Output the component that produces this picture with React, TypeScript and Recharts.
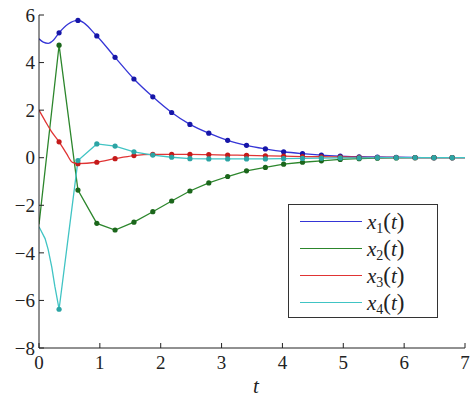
import React from 'react';
import { LineChart, Line, XAxis, YAxis, Legend } from 'recharts';

// sample instants where markers are drawn
const markT = [0.33, 0.64, 0.95, 1.25, 1.56, 1.87, 2.18, 2.48, 2.79, 3.1, 3.41, 3.72, 4.02, 4.33, 4.64, 4.95, 5.26, 5.56, 5.87, 6.18, 6.49, 6.79];

const x1Marks = [5.25, 5.77, 5.12, 4.22, 3.31, 2.56, 1.9, 1.4, 1.03, 0.73, 0.52, 0.37, 0.25, 0.17, 0.11, 0.07, 0.04, 0.03, 0.02, 0.01, 0, 0];
const x2Marks = [4.73, -1.36, -2.76, -3.04, -2.71, -2.27, -1.82, -1.4, -1.06, -0.79, -0.55, -0.41, -0.27, -0.19, -0.13, -0.07, -0.04, -0.02, -0.01, 0, 0, 0];
const x3Marks = [0.67, -0.25, -0.19, -0.04, 0.09, 0.14, 0.14, 0.14, 0.13, 0.11, 0.1, 0.08, 0.07, 0.05, 0.04, 0.03, 0.02, 0.01, 0.01, 0, 0, 0];
const x4Marks = [-6.37, -0.12, 0.58, 0.49, 0.25, 0.11, 0.02, -0.04, -0.05, -0.05, -0.05, -0.05, -0.04, -0.03, -0.02, -0.01, -0.01, 0, 0, 0, 0, 0];

// points between samples (no marker)
const x1ExtraT = [0, 0.07, 0.15, 0.24, 0.48, 7];
const x1Extra = [5.0, 4.86, 4.81, 4.95, 5.62, 0];
const x2ExtraT = [0, 7];
const x2Extra = [-2.8, 0];
const x3ExtraT = [0, 0.1, 0.2, 0.45, 0.55, 7];
const x3Extra = [2.0, 1.55, 1.12, 0.18, -0.2, 0];
const x4ExtraT = [0, 0.1, 0.15, 0.21, 0.26, 7];
const x4Extra = [-2.9, -3.4, -3.85, -4.6, -5.4, 0];

const xTicks = [0, 1, 2, 3, 4, 5, 6, 7];
const yTicks = [-8, -6, -4, -2, 0, 2, 4, 6];

const build = (marks: number[], extraT: number[], extra: number[]) =>
  [
    ...markT.map((t, i) => ({ t, v: marks[i], m: true })),
    ...extraT.map((t, i) => ({ t, v: extra[i], m: false })),
  ].sort((a, b) => a.t - b.t);

const series = [
  { name: 'x1', sub: '1', data: build(x1Marks, x1ExtraT, x1Extra), color: '#3535d6', dotColor: '#1616a8', type: 'monotone' },
  { name: 'x2', sub: '2', data: build(x2Marks, x2ExtraT, x2Extra), color: '#2c862c', dotColor: '#1b661b', type: 'linear' },
  { name: 'x3', sub: '3', data: build(x3Marks, x3ExtraT, x3Extra), color: '#e03434', dotColor: '#c41a1a', type: 'monotone' },
  { name: 'x4', sub: '4', data: build(x4Marks, x4ExtraT, x4Extra), color: '#40c4c4', dotColor: '#2ca4a4', type: 'linear' },
];

const serif = "'Liberation Serif', 'Times New Roman', serif";

const LegendBox = () => (
  <div
    style={{
      border: '1px solid #333',
      background: '#fff',
      width: 150,
      height: 114,
      boxSizing: 'border-box',
      paddingTop: 3,
      fontFamily: serif,
    }}
  >
    {series.map((s) => (
      <div key={s.name} style={{ display: 'flex', alignItems: 'center', height: 27 }}>
        <div style={{ width: 62, height: 0, borderTop: `1.5px solid ${s.color}`, marginLeft: 11, marginRight: 5 }} />
        <span style={{ fontSize: 21, color: '#222', whiteSpace: 'nowrap' }}>
          <i>x</i>
          <span style={{ fontSize: 14, position: 'relative', top: 4 }}>{s.sub}</span>
          <span style={{ fontSize: 23 }}>(</span>
          <i>t</i>
          <span style={{ fontSize: 23 }}>)</span>
        </span>
      </div>
    ))}
  </div>
);

const makeDot = (fill: string) => (props: any) => {
  const { cx, cy, payload, index } = props;
  if (!payload || !payload.m) return <g key={`e-${index}`} />;
  return <circle key={`d-${index}`} cx={cx} cy={cy} r={2.6} fill={fill} stroke="none" />;
};

export default function App() {
  return (
    <div style={{ position: 'absolute', left: 0, top: 0, background: '#fff', fontFamily: serif }}>
      <LineChart width={474} height={397} margin={{ top: 15, right: 9, left: 0, bottom: 0 }}>
        <XAxis
          type="number"
          dataKey="t"
          domain={[0, 7]}
          ticks={xTicks}
          allowDataOverflow
          height={49}
          tickSize={-5}
          tickMargin={13}
          stroke="#222"
          tick={{ fill: '#222', fontSize: 19 }}
          label={{ value: 't', position: 'insideBottom', offset: 4, dx: 4, fill: '#222', fontSize: 21, fontStyle: 'italic' }}
        />
        <YAxis
          type="number"
          dataKey="v"
          domain={[-8, 6]}
          ticks={yTicks}
          allowDataOverflow
          width={39}
          tickSize={-5}
          tickMargin={9}
          stroke="#222"
          tick={{ fill: '#222', fontSize: 19 }}
          tickFormatter={(v: number) => String(v).replace('-', '\u2212')}
        />
        {series.map((s) => (
          <Line
            key={s.name}
            data={s.data}
            dataKey="v"
            name={s.name}
            type={s.type as any}
            stroke={s.color}
            strokeWidth={1.3}
            dot={makeDot(s.dotColor)}
            activeDot={false}
            isAnimationActive={false}
          />
        ))}
        <Legend
          layout="vertical"
          align="center"
          verticalAlign="middle"
          content={() => <LegendBox />}
          wrapperStyle={{ left: 288, top: 204, width: 150, height: 114 }}
        />
      </LineChart>
    </div>
  );
}
